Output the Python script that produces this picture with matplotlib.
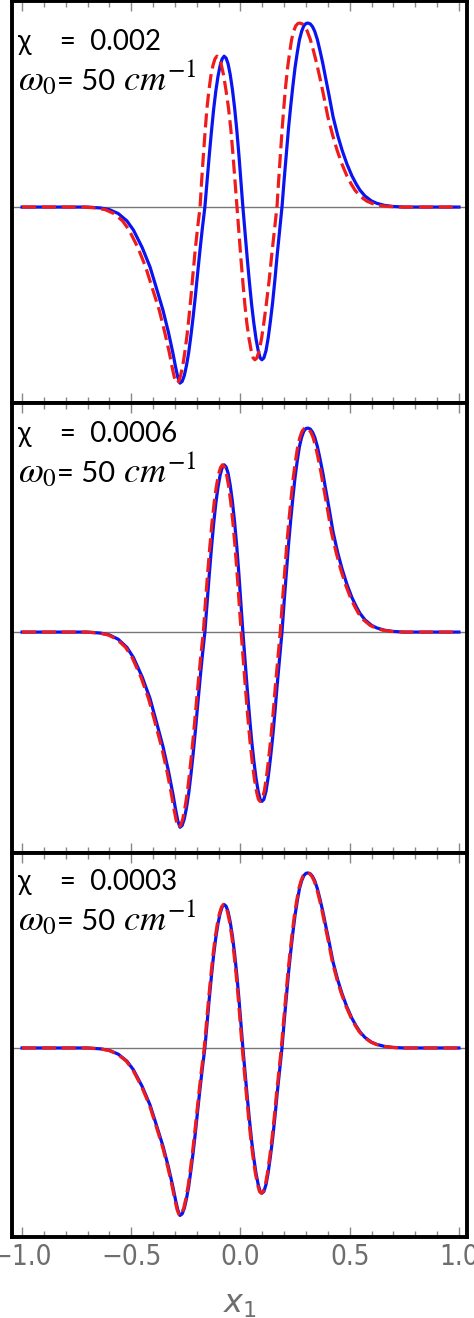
import matplotlib
matplotlib.use("Agg")
import matplotlib.pyplot as plt
from matplotlib.ticker import MultipleLocator

# blue (solid) curve, same in every panel, top peak scaled to 1
x_blue = [-1.0, -0.70, -0.64, -0.60, -0.56, -0.52, -0.49, -0.45, -0.414, -0.385,
          -0.355, -0.33, -0.31, -0.297, -0.287, -0.277, -0.267, -0.257, -0.247, -0.237,
          -0.227, -0.217, -0.207, -0.197, -0.185, -0.175, -0.163, -0.153, -0.143, -0.133,
          -0.123, -0.113, -0.103, -0.093, -0.084, -0.075, -0.066, -0.057, -0.047, -0.037,
          -0.027, -0.017, -0.007, 0.002, 0.011, 0.021, 0.031, 0.041, 0.051, 0.061,
          0.071, 0.081, 0.09, 0.098, 0.107, 0.117, 0.127, 0.137, 0.147, 0.158,
          0.168, 0.179, 0.19, 0.2, 0.21, 0.22, 0.23, 0.24, 0.25, 0.26,
          0.27, 0.28, 0.29, 0.3, 0.309, 0.32, 0.33, 0.34, 0.352, 0.364,
          0.377, 0.39, 0.405, 0.424, 0.445, 0.465, 0.487, 0.51, 0.53, 0.547,
          0.57, 0.6, 0.625, 0.66, 0.7, 0.75, 1.0]
y_blue = [0, 0, -0.005, -0.014, -0.035, -0.075, -0.125, -0.22, -0.326, -0.44,
          -0.56, -0.68, -0.79, -0.87, -0.925, -0.957, -0.948, -0.915, -0.86, -0.79,
          -0.70, -0.60, -0.49, -0.37, -0.23, -0.12, 0.0, 0.14, 0.28, 0.41,
          0.53, 0.63, 0.71, 0.77, 0.805, 0.82, 0.81, 0.78, 0.72, 0.64,
          0.54, 0.42, 0.28, 0.14, 0.0, -0.14, -0.28, -0.41, -0.53, -0.63,
          -0.715, -0.78, -0.82, -0.83, -0.82, -0.78, -0.71, -0.62, -0.52, -0.39,
          -0.26, -0.13, 0.0, 0.15, 0.29, 0.43, 0.55, 0.66, 0.76, 0.84,
          0.91, 0.955, 0.985, 0.998, 1.0, 0.995, 0.98, 0.955, 0.91, 0.85,
          0.78, 0.70, 0.61, 0.49, 0.39, 0.31, 0.235, 0.17, 0.125, 0.092,
          0.06, 0.033, 0.02, 0.009, 0.003, 0.0, 0.0]

# red (dashed) curves, one per chi value (same heights as blue)
x_red_002 = [-1.0, -0.72, -0.66, -0.62, -0.58, -0.54, -0.51, -0.47, -0.434, -0.404,
             -0.372, -0.347, -0.326, -0.313, -0.303, -0.293, -0.283, -0.274, -0.264, -0.255,
             -0.245, -0.236, -0.227, -0.218, -0.207, -0.197, -0.185, -0.178, -0.17, -0.162,
             -0.154, -0.145, -0.136, -0.126, -0.117, -0.108, -0.099, -0.089, -0.078, -0.067,
             -0.055, -0.044, -0.034, -0.025, -0.016, -0.007, 0.002, 0.011, 0.02, 0.029,
             0.039, 0.049, 0.058, 0.066, 0.075, 0.086, 0.097, 0.108, 0.119, 0.132,
             0.143, 0.155, 0.167, 0.175, 0.183, 0.191, 0.199, 0.207, 0.216, 0.225,
             0.234, 0.243, 0.253, 0.263, 0.272, 0.284, 0.295, 0.306, 0.32, 0.334,
             0.349, 0.364, 0.38, 0.4, 0.422, 0.442, 0.464, 0.487, 0.507, 0.524,
             0.547, 0.577, 0.602, 0.637, 0.677, 0.727, 1.0]
x_red_0006 = [-1.0, -0.706, -0.646, -0.606, -0.566, -0.526, -0.496, -0.456, -0.421, -0.392,
              -0.362, -0.337, -0.317, -0.304, -0.294, -0.284, -0.274, -0.264, -0.254, -0.244,
              -0.234, -0.224, -0.214, -0.204, -0.192, -0.182, -0.17, -0.161, -0.151, -0.141,
              -0.131, -0.121, -0.111, -0.101, -0.092, -0.083, -0.074, -0.065, -0.055, -0.045,
              -0.035, -0.025, -0.015, -0.006, 0.003, 0.013, 0.023, 0.033, 0.043, 0.053,
              0.063, 0.073, 0.082, 0.09, 0.099, 0.109, 0.119, 0.129, 0.139, 0.15,
              0.16, 0.171, 0.182, 0.192, 0.202, 0.212, 0.222, 0.232, 0.242, 0.252,
              0.262, 0.272, 0.282, 0.292, 0.301, 0.312, 0.322, 0.332, 0.344, 0.356,
              0.369, 0.382, 0.397, 0.416, 0.438, 0.458, 0.48, 0.503, 0.523, 0.54,
              0.563, 0.593, 0.618, 0.653, 0.693, 0.744, 1.0]
x_red_0003 = [-1.0, -0.703, -0.643, -0.603, -0.563, -0.523, -0.493, -0.453, -0.417, -0.388,
              -0.358, -0.333, -0.313, -0.3, -0.29, -0.28, -0.27, -0.26, -0.25, -0.24,
              -0.23, -0.22, -0.21, -0.2, -0.188, -0.178, -0.166, -0.156, -0.146, -0.136,
              -0.126, -0.116, -0.106, -0.096, -0.087, -0.078, -0.069, -0.06, -0.05, -0.04,
              -0.03, -0.02, -0.01, -0.001, 0.008, 0.018, 0.028, 0.038, 0.048, 0.058,
              0.068, 0.078, 0.087, 0.095, 0.104, 0.114, 0.124, 0.134, 0.144, 0.155,
              0.165, 0.176, 0.187, 0.197, 0.207, 0.217, 0.227, 0.237, 0.247, 0.257,
              0.267, 0.277, 0.287, 0.297, 0.306, 0.317, 0.327, 0.337, 0.349, 0.361,
              0.374, 0.387, 0.402, 0.421, 0.442, 0.462, 0.484, 0.507, 0.527, 0.544,
              0.567, 0.597, 0.622, 0.657, 0.697, 0.747, 1.0]

chi_labels = ["0.002", "0.0006", "0.0003"]
x_ticks = [-1.0, -0.5, 0.0, 0.5, 1.0]

plt.rcParams['mathtext.fontset'] = 'dejavusans'

W, H = 474, 1318
fig = plt.figure(figsize=(W / 100, H / 100), dpi=100)

# panel boxes in pixels: top, bottom, y-limits, baselines of the two text lines
panels = [
    (1, 403, (-1.065, 1.12), 49, 89),
    (403, 853, (-1.083, 1.123), 39, 79),
    (853, 1237, (-1.08, 1.114), 37, 77),
]
reds = [x_red_002, x_red_0006, x_red_0003]
left, right = 12, 467

gray = '#6e6e6e'
txt_font = ['Lato', 'DejaVu Sans']
for i, (top, bot, ylim, b1, b2) in enumerate(panels):
    ax = fig.add_axes([left / W, 1 - bot / H, (right - left) / W, (bot - top) / H])
    ax.axhline(0, color='#777777', lw=1.0, zorder=1)
    ax.plot(x_blue, y_blue, color='#0a14f0', lw=2.3, zorder=2, solid_joinstyle='round')
    ax.plot(reds[i], y_blue, color='#f01c1c', lw=2.3, ls=(0, (4.4, 1.8)), zorder=3)
    ax.set_xlim(-1.046, 1.037)
    ax.set_ylim(*ylim)
    ax.set_yticks([])
    ax.xaxis.set_major_locator(MultipleLocator(0.5))
    ax.xaxis.set_minor_locator(MultipleLocator(0.1))
    ax.tick_params(axis='x', which='both', direction='in', top=True, bottom=True,
                   color='#888888', width=1.0)
    ax.tick_params(axis='x', which='major', length=7)
    ax.tick_params(axis='x', which='minor', length=4.5)
    for s in ax.spines.values():
        s.set_linewidth(2.8)
        s.set_color('black')
    if i < 2:
        ax.set_xticklabels([])
    else:
        ax.set_xticks(x_ticks)
        ax.set_xticklabels([f"{v:.1f}".replace('-', '\u2212') for v in x_ticks],
                           family='DejaVu Sans', stretch='condensed',
                           fontsize=20, color=gray)
        ax.tick_params(axis='x', which='major', pad=4)
        ax.set_xlabel(r'$x_1$', fontsize=23, color=gray, labelpad=13)

    # first line: chi value
    fig.text(18 / W, 1 - (top + b1) / H, "\u03c7    =  " + chi_labels[i],
             family=txt_font, fontsize=20, va='baseline', ha='left')
    # second line: omega_0 = 50 cm^-1, math parts a bit larger
    fig.text(18 / W, 1 - (top + b2) / H, r'$\omega_0$', fontsize=26,
             va='baseline', ha='left', math_fontfamily='stix')
    fig.text(57 / W, 1 - (top + b2) / H, "= 50", family=txt_font, fontsize=21,
             va='baseline', ha='left')
    fig.text(123 / W, 1 - (top + b2) / H, r'$cm^{-1}$', fontsize=26,
             va='baseline', ha='left', math_fontfamily='stix')

fig.savefig('out.png', dpi=100)
